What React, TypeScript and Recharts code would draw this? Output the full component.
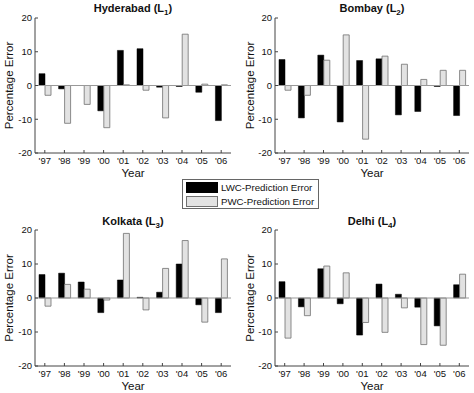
import React from 'react'
import {
  Bar,
  BarChart,
  Label,
  ReferenceLine,
  XAxis,
  YAxis,
} from 'recharts'

const years = ["'97", "'98", "'99", "'00", "'01", "'02", "'03", "'04", "'05", "'06"]
const yTicks = [-20, -10, 0, 10, 20]

// Hyderabad (L1)
const hydLwc = [3.5, -1.0, 0, -7.5, 10.4, 10.9, -0.5, -0.3, -2.0, -10.4]
const hydPwc = [-2.9, -11.2, -5.6, -12.5, 0.2, -1.4, -9.6, 15.2, 0.4, 0.2]

// Bombay (L2)
const bomLwc = [7.7, -9.6, 9.0, -10.8, 7.4, 7.9, -8.7, -7.7, -0.3, -8.9]
const bomPwc = [-1.4, -2.9, 7.5, 15.0, -15.9, 8.7, 6.3, 1.8, 4.5, 4.5]

// Kolkata (L3)
const kolLwc = [6.9, 7.3, 4.7, -4.3, 5.3, 0.2, 1.7, 10.0, -2.0, -4.3]
const kolPwc = [-2.4, 4.0, 2.6, -0.6, 19.0, -3.5, 8.7, 16.9, -7.1, 11.5]

// Delhi (L4)
const delLwc = [4.8, -2.6, 8.6, -1.7, -10.9, 4.1, 1.1, -2.7, -8.2, 3.9]
const delPwc = [-11.8, -5.2, 9.4, 7.4, -7.2, -10.1, -2.9, -13.7, -13.9, 7.0]

const FONT = '"Liberation Sans", Arial, sans-serif'
const AXIS = '#444'

type PanelProps = {
  name: string
  sub: string
  lwc: number[]
  pwc: number[]
  left: number
  top: number
  height: number
  marginTop: number
  marginBottom: number
  marginRight: number
  yWidth: number
  labelOffset: number
  titleTop: number
}

function Panel({
  name,
  sub,
  lwc,
  pwc,
  left,
  top,
  height,
  marginTop,
  marginBottom,
  marginRight,
  yWidth,
  labelOffset,
  titleTop,
}: PanelProps) {
  const data = years.map((year, i) => ({ year, lwc: lwc[i], pwc: pwc[i] }))
  const plotLeft = yWidth
  const plotRight = 237 - marginRight

  return (
    <>
      <div
        style={{
          position: 'absolute',
          left: left + plotLeft,
          width: plotRight - plotLeft,
          top: titleTop,
          textAlign: 'center',
          fontFamily: FONT,
          fontWeight: 'bold',
          fontSize: 11,
          lineHeight: '12px',
          color: '#111',
        }}
      >
        {name} (L<sub style={{ fontSize: 8 }}>{sub}</sub>)
      </div>
      <div style={{ position: 'absolute', left, top }}>
        <BarChart
          width={237}
          height={height}
          data={data}
          barSize={6}
          barGap={0}
          margin={{ top: marginTop, right: marginRight, bottom: marginBottom, left: 0 }}
          style={{ fontFamily: FONT }}
        >
          <XAxis
            dataKey="year"
            height={27}
            interval={0}
            tickSize={-3}
            tickMargin={7}
            stroke={AXIS}
            tick={{ fill: '#111', fontSize: 9.5 }}
          >
            <Label
              value="Year"
              position="insideBottom"
              offset={3}
              style={{ fill: '#111', fontSize: 11.5 }}
            />
          </XAxis>
          <XAxis
            xAxisId="top"
            dataKey="year"
            orientation="top"
            height={0}
            interval={0}
            tickSize={-3}
            tick={false}
            stroke={AXIS}
          />
          <YAxis
            domain={[-20, 20]}
            ticks={yTicks}
            width={yWidth}
            interval={0}
            tickSize={-3}
            tickMargin={6}
            stroke={AXIS}
            tick={{ fill: '#111', fontSize: 9.5 }}
            allowDataOverflow
          >
            <Label
              value="Percentage Error"
              angle={-90}
              position="insideLeft"
              offset={labelOffset}
              style={{ fill: '#111', fontSize: 11.5, textAnchor: 'middle' }}
            />
          </YAxis>
          <YAxis
            yAxisId="right"
            orientation="right"
            domain={[-20, 20]}
            ticks={yTicks}
            width={0}
            tickSize={-3}
            tick={false}
            stroke={AXIS}
          />
          <ReferenceLine y={0} stroke="#999" strokeWidth={1} />
          <Bar
            dataKey="lwc"
            fill="#000"
            stroke="#000"
            strokeWidth={0.5}
            isAnimationActive={false}
          />
          <Bar
            dataKey="pwc"
            fill="#e2e2e2"
            stroke="#707070"
            strokeWidth={0.8}
            isAnimationActive={false}
          />
        </BarChart>
      </div>
    </>
  )
}

function LegendBox() {
  const row = (fill: string, stroke: string, text: string) => (
    <div style={{ display: 'flex', alignItems: 'center', height: 14 }}>
      <div
        style={{
          width: 30,
          height: 9,
          background: fill,
          border: `1px solid ${stroke}`,
          marginRight: 3,
        }}
      />
      <span>{text}</span>
    </div>
  )
  return (
    <div
      style={{
        position: 'absolute',
        left: 182,
        top: 179,
        width: 132,
        height: 28,
        border: '1px solid #666',
        background: '#fff',
        fontFamily: FONT,
        fontSize: 9.7,
        color: '#111',
        boxSizing: 'content-box',
        padding: '0 0 0 3px',
        zIndex: 2,
      }}
    >
      {row('#000', '#000', 'LWC-Prediction Error')}
      {row('#e2e2e2', '#707070', 'PWC-Prediction Error')}
    </div>
  )
}

export default function App() {
  return (
    <div
      style={{
        position: 'absolute',
        left: 0,
        top: 0,
        width: 474,
        height: 393,
        background: '#fff',
        overflow: 'hidden',
      }}
    >
      <Panel
        name="Hyderabad"
        sub="1"
        lwc={hydLwc}
        pwc={hydPwc}
        left={0}
        top={0}
        height={195}
        marginTop={18}
        marginBottom={15}
        marginRight={6}
        yWidth={35}
        labelOffset={9}
        titleTop={2}
      />
      <Panel
        name="Bombay"
        sub="2"
        lwc={bomLwc}
        pwc={bomPwc}
        left={237}
        top={0}
        height={195}
        marginTop={18}
        marginBottom={15}
        marginRight={5}
        yWidth={38}
        labelOffset={13}
        titleTop={2}
      />
      <Panel
        name="Kolkata"
        sub="3"
        lwc={kolLwc}
        pwc={kolPwc}
        left={0}
        top={195}
        height={198}
        marginTop={35}
        marginBottom={0}
        marginRight={6}
        yWidth={35}
        labelOffset={9}
        titleTop={215}
      />
      <Panel
        name="Delhi"
        sub="4"
        lwc={delLwc}
        pwc={delPwc}
        left={237}
        top={195}
        height={198}
        marginTop={35}
        marginBottom={0}
        marginRight={5}
        yWidth={38}
        labelOffset={13}
        titleTop={215}
      />
      <LegendBox />
    </div>
  )
}
